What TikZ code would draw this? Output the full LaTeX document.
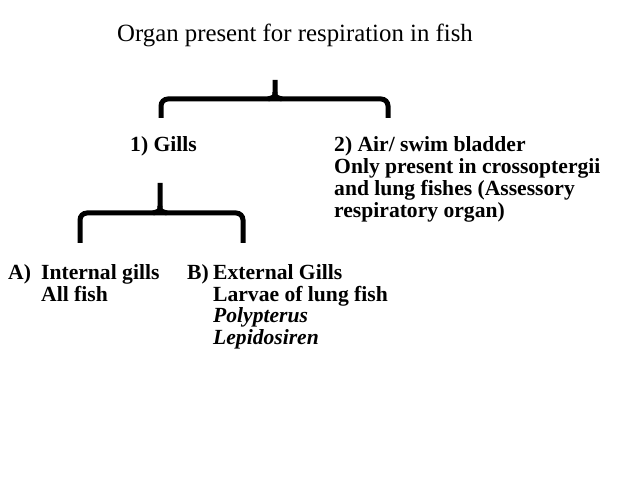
\documentclass[tikz,border=0pt]{standalone}
\usepackage{fontspec}
\setmainfont{Liberation Serif}
\begin{document}
\begin{tikzpicture}[x=1pt,y=-1pt,
  txt/.style={inner sep=0pt,anchor=base west,font=\fontsize{21.6}{22}\selectfont\bfseries},
  ttl/.style={inner sep=0pt,anchor=base west,font=\fontsize{24.8}{26}\selectfont},
  brace/.style={line width=5pt,line cap=butt}]
\useasboundingbox (0,0) rectangle (638,478);
\node[ttl] (title) at (117,42) {Organ present for respiration in fish};
\node[txt] (gills) at (130,152) {1) Gills};
\node[txt] (air1) at (334,152) {2) Air/ swim bladder};
\node[txt] (air2) at (334,174) {Only present in crossoptergii};
\node[txt] (air3) at (334,196) {and lung fishes (Assessory};
\node[txt] (air4) at (334,218) {respiratory organ)};
\node[txt] (la) at (8,280) {A)};
\node[txt] (int1) at (41,280) {Internal gills};
\node[txt] (int2) at (41,301.5) {All fish};
\node[txt] (lb) at (187,280) {B)};
\node[txt] (ext1) at (213,280) {External Gills};
\node[txt] (ext2) at (213,301.5) {Larvae of lung fish};
\node[txt] (ext3) at (213,323) {\itshape Polypterus};
\node[txt] (ext4) at (213,344.5) {\itshape Lepidosiren};
% top brace
\coordinate (b1l) at (161,118);
\coordinate (b1r) at (388,118);
\coordinate (b1t) at (275,80);
\draw[brace,rounded corners=7pt] (b1l) -- (161,99) -- (388,99) -- (b1r);
\draw[brace] (b1t) -- (275,92) .. controls (275,97) .. (268,99);
\draw[brace] (275,92) .. controls (275,97) .. (282,99);
% lower brace
\coordinate (b2l) at (80,243);
\coordinate (b2r) at (243,243);
\coordinate (b2t) at (160,183);
\draw[brace,rounded corners=7pt] (b2l) -- (80,213) -- (243,213) -- (b2r);
\draw[brace] (b2t) -- (160,206) .. controls (160,211) .. (153,213);
\draw[brace] (160,206) .. controls (160,211) .. (167,213);
\end{tikzpicture}
\end{document}
